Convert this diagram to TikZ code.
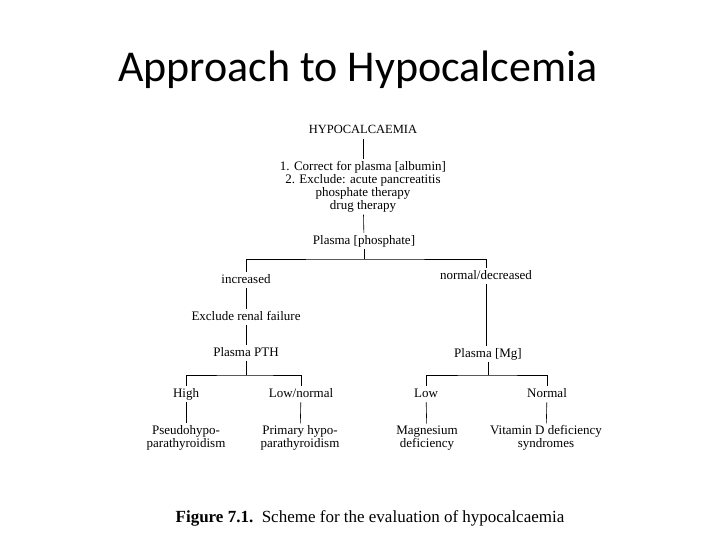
\documentclass[tikz,border=0pt]{standalone}
\usepackage{fontspec}
\setmainfont{Liberation Serif}
\newfontfamily\titlefont{Carlito}
\usepackage{tikz}
\usetikzlibrary{positioning}
\tikzset{
font={\fontsize{13pt}{13pt}\selectfont},
box/.style={inner sep=2pt, align=center, text height=9pt, text depth=3pt},
twoline/.style={inner sep=2pt, align=center},
link/.style={line width=0.6pt}}

\begin{document}
\begin{tikzpicture}[x=1pt, y=-1pt]
    % Page frame
    \useasboundingbox [fill=white] (0, 0) rectangle (720, 540);
    % Title
    \node (title) at (358, 70) {\titlefont\fontsize{44pt}{44pt}\selectfont Approach to Hypocalcemia};

    % Top column
    \node [box, font={\fontsize{12.5pt}{13pt}\selectfont}] (hypo) at (363, 131) {HYPOCALCAEMIA};
    \node [twoline] (correct) at (363, 187) {1. Correct for plasma [albumin]\\2. Exclude: acute pancreatitis\\phosphate therapy\\drug therapy};
    \node [box] (phos) at (364, 241) {Plasma [phosphate]};
    \draw [link] (hypo) -- (correct);
    \draw [link] (correct) -- (phos);

    % Phosphate split
    \coordinate (splitA) at (364, 259);
    \node [box] (incr) at (246, 280) {increased};
    \node [box] (normdec) at (486, 276) {normal/decreased};
    \draw [link] (phos) -- (splitA);
    \draw [link] (incr) |- (splitA) -| (normdec);

    % Left branch
    \node [box] (renal) at (246, 317) {Exclude renal failure};
    \node [box] (pth) at (246, 353) {Plasma PTH};
    \draw [link] (incr) -- (renal);
    \draw [link] (renal) -- (pth);

    % PTH split
    \coordinate (splitB) at (246, 375);
    \node [box] (high) at (186, 394) {High};
    \node [box] (lownorm) at (301, 394) {Low/normal};
    \draw [link] (pth) -- (splitB);
    \draw [link] (high) |- (splitB) -| (lownorm);
    \node [twoline] (pseudo) at (186, 438) {Pseudohypo-\\parathyroidism};
    \node [twoline] (primary) at (300, 438) {Primary hypo-\\parathyroidism};
    \draw [link] (high) -- (pseudo);
    \draw [link] (lownorm) -- (primary);

    % Right branch
    \node [box] (mg) at (488, 354) {Plasma [Mg]};
    \draw [link] (normdec) -- (mg.north -| normdec);

    % Mg split
    \coordinate (splitC) at (488, 375);
    \node [box] (lowmg) at (426, 394) {Low};
    \node [box] (normal) at (547, 394) {Normal};
    \draw [link] (mg) -- (splitC);
    \draw [link] (lowmg) |- (splitC) -| (normal);
    \node [twoline] (mgdef) at (427, 438) {Magnesium\\deficiency};
    \node [twoline] (vitd) at (546, 438) {Vitamin D deficiency\\syndromes};
    \draw [link] (lowmg) -- (mgdef);
    \draw [link] (normal) -- (vitd);

    % Caption
    \node (caption) at (370, 518) {\fontsize{17pt}{17pt}\selectfont\textbf{Figure 7.1.}\ \ Scheme for the evaluation of hypocalcaemia};
  \end{tikzpicture}
\end{document}
